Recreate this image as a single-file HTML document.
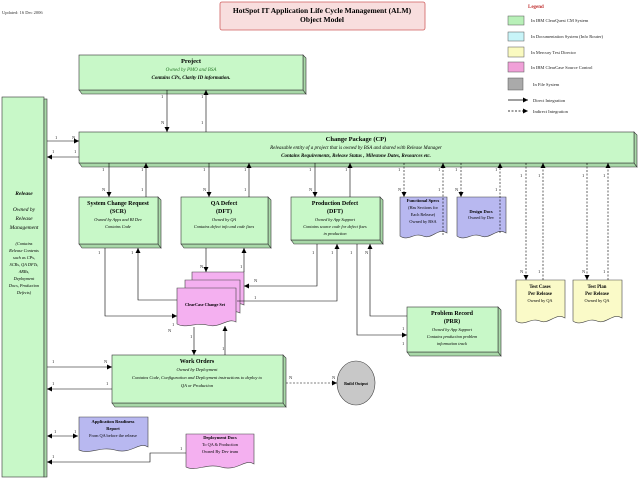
<!DOCTYPE html>
<html><head><meta charset="utf-8"><style>
html,body{margin:0;padding:0;background:#fff;}
svg{display:block;}
text{font-family:"Liberation Serif",serif;}
.b{font-weight:bold;}
.i{font-style:italic;}
</style></head><body>
<svg width="638" height="478" viewBox="0 0 638 478" xmlns="http://www.w3.org/2000/svg">
<defs>
<marker id="a" markerWidth="6" markerHeight="6" refX="5" refY="3" orient="auto" markerUnits="userSpaceOnUse"><path d="M0,0.5 L5,3 L0,5.5 Z" fill="#000"/></marker>
<marker id="as" markerWidth="6" markerHeight="6" refX="1" refY="3" orient="auto" markerUnits="userSpaceOnUse"><path d="M5,0.5 L0,3 L5,5.5 Z" fill="#000"/></marker>
</defs>

<text x="2" y="14" font-size="4.5" fill="#333">Updated: 16 Dec 2006</text>

<!-- Title -->
<rect x="220" y="2" width="205" height="28" rx="2" fill="#f8dede" stroke="#d06060" stroke-width="0.8"/>
<text x="322" y="13" font-size="7.5" class="b" text-anchor="middle">HotSpot IT Application Life Cycle Management (ALM)</text>
<text x="322" y="22" font-size="7.5" class="b" text-anchor="middle">Object Model</text>

<!-- Legend -->
<text x="528" y="8" font-size="5" fill="#c03030" class="b">Legend</text>
<g stroke="#555" stroke-width="0.5" font-size="4.5">
<rect x="508" y="16" width="16" height="9" fill="#b8f0b8"/>
<rect x="508" y="32" width="16" height="9" fill="#c8f4f8"/>
<rect x="508" y="47" width="16" height="10" fill="#fafac0"/>
<rect x="508" y="62" width="16" height="10" fill="#f0a0d8"/>
<rect x="508" y="78" width="15" height="12" fill="#aaa"/>
</g>
<g font-size="4.5" fill="#222">
<text x="531" y="22">In IBM ClearQuest CM System</text>
<text x="531" y="38">In Documentation System (Info Router)</text>
<text x="531" y="54">In Mercury Test Director</text>
<text x="531" y="69">In IBM ClearCase Source Control</text>
<text x="533" y="86">In File System</text>
<text x="533" y="102">Direct Integration</text>
<text x="533" y="113">Indirect Integration</text>
</g>
<line x1="508" y1="100" x2="528" y2="100" stroke="#000" stroke-width="0.7" marker-end="url(#a)"/>
<line x1="508" y1="111" x2="528" y2="111" stroke="#000" stroke-width="0.7" stroke-dasharray="2,1.5" marker-end="url(#a)"/>

<!-- 3D boxes -->
<g stroke="#333" stroke-width="0.6">
<!-- Project -->
<polygon points="79,90 82,94 306,94 303,90" fill="#a8d8a8"/>
<polygon points="303,55 306,58 306,94 303,90" fill="#a8d8a8"/>
<rect x="79" y="55" width="224" height="35" fill="#c8f8c8"/>
<!-- Release -->
<rect x="2" y="97" width="42" height="380" fill="#c8f8c8"/>
<rect x="44" y="99" width="3" height="378" fill="#a8d8a8"/>
<!-- CP -->
<polygon points="79,163 82,167 637,167 634,163" fill="#a8d8a8"/>
<polygon points="634,132 637,135 637,167 634,163" fill="#a8d8a8"/>
<rect x="79" y="132" width="555" height="31" fill="#c8f8c8"/>
<!-- SCR -->
<polygon points="79,244 82,248 161,248 158,244" fill="#a8d8a8"/>
<polygon points="158,197 161,200 161,248 158,244" fill="#a8d8a8"/>
<rect x="79" y="197" width="79" height="47" fill="#c8f8c8"/>
<!-- QA -->
<polygon points="181,244 184,248 271,248 268,244" fill="#a8d8a8"/>
<polygon points="268,197 271,200 271,248 268,244" fill="#a8d8a8"/>
<rect x="181" y="197" width="87" height="47" fill="#c8f8c8"/>
<!-- Prod -->
<polygon points="291,240 294,244 383,244 380,240" fill="#a8d8a8"/>
<polygon points="380,197 383,200 383,244 380,240" fill="#a8d8a8"/>
<rect x="291" y="197" width="89" height="43" fill="#c8f8c8"/>
<!-- PRR -->
<polygon points="407,352 410,356 501,356 498,352" fill="#a8d8a8"/>
<polygon points="498,307 501,310 501,356 498,352" fill="#a8d8a8"/>
<rect x="407" y="307" width="91" height="45" fill="#c8f8c8"/>
<!-- WO -->
<polygon points="112,403 115,407 286,407 283,403" fill="#a8d8a8"/>
<polygon points="283,355 286,358 286,407 283,403" fill="#a8d8a8"/>
<rect x="112" y="355" width="171" height="48" fill="#c8f8c8"/>
</g>

<!-- Documents -->
<g stroke="#444" stroke-width="0.6">
<path d="M400 197 H447 V233 C438 227 432 240 423 236 C414 232 408 242 400 236 Z" fill="#b8b8f0"/>
<path d="M457 197 H506 V233 C497 227 490 240 481 236 C472 232 465 242 457 236 Z" fill="#b8b8f0"/>
<path d="M516 280 H565 V318 C556 312 549 325 540 321 C531 317 524 327 516 321 Z" fill="#fafac8"/>
<path d="M573 280 H622 V318 C613 312 606 325 597 321 C588 317 581 327 573 321 Z" fill="#fafac8"/>
<path d="M79 417 H148 V447 C139 441 131 455 115 450 C100 446 90 455 79 450 Z" fill="#b8b8f0"/>
<path d="M186 434 H254 V464 C245 458 237 472 221 467 C206 463 196 472 186 467 Z" fill="#f4b0f0"/>
<!-- ClearCase stack -->
<path d="M192 272 H244 V305 C236 300 230 311 218 307 C208 304 200 311 192 307 Z" fill="#f4b0f0"/>
<path d="M185 280 H240 V313 C232 308 226 319 213 315 C203 312 193 319 185 315 Z" fill="#f4b0f0"/>
<path d="M177 288 H236 V322 C228 317 220 329 207 325 C196 322 186 329 177 324 Z" fill="#f4b0f0"/>
<!-- Build output -->
<ellipse cx="356" cy="383" rx="19" ry="22" fill="#c8c8c8"/>
</g>

<!-- Texts in boxes -->
<g font-size="5" text-anchor="middle">
<text x="191" y="63" font-size="6.5" class="b">Project</text>
<text x="191" y="71" class="i" fill="#2a7a2a">Owned by PMO and BSA</text>
<text x="191" y="79" class="b i">Contains CPs, Clarity ID information.</text>

<text x="356" y="141" font-size="6.5" class="b">Change Package (CP)</text>
<text x="356" y="149" class="i">Releasable entity of a project that is owned by BSA and shared with Release Manager</text>
<text x="356" y="157" class="b i">Contains Requirements, Release Status , Milestone Dates, Resources etc.</text>

<text x="24" y="195" font-size="5.5" class="b i">Release</text>
<text x="24" y="211" font-size="5.5" class="i">Owned by</text>
<text x="24" y="220" font-size="5.5" class="i">Release</text>
<text x="24" y="229" font-size="5.5" class="i">Management</text>
<text x="24" y="245" font-size="4.3" class="i">(Contains</text>
<text x="24" y="252" font-size="4.3" class="i">Release Contents</text>
<text x="24" y="259" font-size="4.3" class="i">such as CPs,</text>
<text x="24" y="266" font-size="4.3" class="i">SCRs, QA DFTs,</text>
<text x="24" y="273" font-size="4.3" class="i">ARRs,</text>
<text x="24" y="280" font-size="4.3" class="i">Deployment</text>
<text x="24" y="287" font-size="4.3" class="i">Docs, Production</text>
<text x="24" y="294" font-size="4.3" class="i">Defects)</text>

<text x="118" y="205" font-size="6" class="b">System Change Request</text>
<text x="118" y="213" font-size="6" class="b">(SCR)</text>
<text x="118" y="221" font-size="4.3" class="i">Owned by Apps and BI Dev</text>
<text x="118" y="228" font-size="4.3" class="i">Contains Code</text>

<text x="224" y="205" font-size="6" class="b">QA Defect</text>
<text x="224" y="213" font-size="6" class="b">(DFT)</text>
<text x="224" y="221" font-size="4.3" class="i">Owned by QA</text>
<text x="224" y="228" font-size="4.3" class="i">Contains defect info and code fixes</text>

<text x="335" y="205" font-size="6" class="b">Production Defect</text>
<text x="335" y="213" font-size="6" class="b">(DFT)</text>
<text x="335" y="221" font-size="4.3" class="i">Owned by App Support</text>
<text x="335" y="228" font-size="4.3" class="i">Contains source code for defect fixes</text>
<text x="335" y="235" font-size="4.3" class="i">in production</text>

<text x="423" y="202" font-size="4.5" class="b">Functional Specs</text>
<text x="423" y="209" font-size="4.3">(Has Sections for</text>
<text x="423" y="216" font-size="4.3">Each Release)</text>
<text x="423" y="223" font-size="4.3">Owned by BSA</text>
<text x="481" y="213" font-size="4.5" class="b">Design Docs</text>
<text x="481" y="219" font-size="4.3">Owned by Dev</text>

<text x="540" y="288" font-size="4.8" class="b">Test Cases</text>
<text x="540" y="295" font-size="4.8" class="b">Per Release</text>
<text x="540" y="302" font-size="4.3">Owned by QA</text>
<text x="597" y="288" font-size="4.8" class="b">Test Plan</text>
<text x="597" y="295" font-size="4.8" class="b">Per Release</text>
<text x="597" y="302" font-size="4.3">Owned by QA</text>

<text x="205" y="306" font-size="4.2" class="b">ClearCase Change Set</text>

<text x="452" y="315" font-size="6" class="b">Problem Record</text>
<text x="452" y="323" font-size="6" class="b">(PRR)</text>
<text x="452" y="331" font-size="4.3" class="i">Owned by App Support</text>
<text x="452" y="338" font-size="4.3" class="i">Contains production problem</text>
<text x="452" y="345" font-size="4.3" class="i">information track</text>

<text x="197" y="363" font-size="6" class="b">Work Orders</text>
<text x="197" y="371" font-size="4.5" class="i">Owned by Deployment</text>
<text x="197" y="379" font-size="4.5" class="i">Contains Code, Configuration and Deployment instructions to deploy to</text>
<text x="197" y="387" font-size="4.5" class="i">QA or Production</text>

<text x="356" y="385" font-size="4.2" class="b">Build Output</text>

<text x="113" y="423" font-size="4.5" class="b">Application Readiness</text>
<text x="113" y="430" font-size="4.5" class="b">Report</text>
<text x="113" y="437" font-size="4.3">From QA before the release</text>

<text x="220" y="439" font-size="4.5" class="b">Deployment Docs</text>
<text x="220" y="446" font-size="4.3">To QA &amp; Production</text>
<text x="220" y="453" font-size="4.3">Owned By Dev team</text>
</g>

<!-- Connectors -->
<g stroke="#000" stroke-width="0.6" fill="none">
<line x1="167" y1="90" x2="167" y2="132" marker-end="url(#a)"/>
<line x1="206" y1="132" x2="206" y2="90" marker-end="url(#a)"/>
<line x1="47" y1="141" x2="79" y2="141" marker-end="url(#a)"/>
<line x1="79" y1="157" x2="47" y2="157" marker-end="url(#a)"/>

<line x1="109" y1="163" x2="109" y2="197" marker-end="url(#a)"/>
<line x1="146" y1="197" x2="146" y2="163" marker-end="url(#a)"/>
<line x1="209" y1="163" x2="209" y2="197" marker-end="url(#a)"/>
<line x1="249" y1="197" x2="249" y2="163" marker-end="url(#a)"/>
<line x1="315" y1="163" x2="315" y2="197" marker-end="url(#a)"/>
<line x1="350" y1="197" x2="350" y2="163" marker-end="url(#a)"/>
</g>
<g stroke="#000" stroke-width="0.6" fill="none" stroke-dasharray="2,1.5">
<line x1="404" y1="163" x2="404" y2="197" marker-end="url(#a)"/>
<line x1="443" y1="235" x2="443" y2="163" marker-end="url(#a)"/>
<line x1="461" y1="163" x2="461" y2="197" marker-end="url(#a)"/>
<line x1="500" y1="233" x2="500" y2="163" marker-end="url(#a)"/>
<line x1="526" y1="163" x2="526" y2="280" marker-end="url(#a)"/>
<line x1="543" y1="280" x2="543" y2="163" marker-end="url(#a)"/>
<line x1="587" y1="163" x2="587" y2="280" marker-end="url(#a)"/>
<line x1="608" y1="280" x2="608" y2="163" marker-end="url(#a)"/>
<line x1="286" y1="383" x2="337" y2="383" marker-end="url(#a)"/>
</g>
<g stroke="#000" stroke-width="0.6" fill="none">
<polyline points="105,248 105,316 177,316" marker-end="url(#a)"/>
<polyline points="177,300 138,300 138,248" marker-end="url(#a)"/>
<line x1="206" y1="248" x2="206" y2="272" marker-end="url(#a)"/>
<line x1="244" y1="272" x2="244" y2="248" marker-end="url(#a)"/>
<polyline points="317,244 317,286 244,286" marker-end="url(#a)"/>
<polyline points="237,301 337,301 337,244" marker-end="url(#a)"/>
<polyline points="357,244 357,335 407,335" marker-end="url(#a)"/>
<polyline points="407,316 370,316 370,244" marker-end="url(#a)"/>
<line x1="194" y1="327" x2="194" y2="355" marker-end="url(#a)"/>
<line x1="225" y1="355" x2="225" y2="326" marker-end="url(#a)"/>
<line x1="47" y1="367" x2="112" y2="367" marker-end="url(#a)"/>
<line x1="112" y1="389" x2="47" y2="389" marker-end="url(#a)"/>
<line x1="48" y1="436" x2="78" y2="436" marker-start="url(#as)" marker-end="url(#a)"/>
<polyline points="186,453 150,453 150,462 47,462" marker-end="url(#a)"/>
</g>

<!-- multiplicity labels -->
<g font-size="4.5" fill="#222">
<text x="161" y="98">1</text><text x="161" y="124">N</text>
<text x="201" y="98">1</text><text x="201" y="124">1</text>
<text x="55" y="139">1</text><text x="72" y="139">N</text>
<text x="52" y="153">1</text><text x="74" y="153">1</text>
<text x="102" y="171">1</text><text x="102" y="191">N</text>
<text x="141" y="171">1</text><text x="141" y="191">1</text>
<text x="203" y="171">1</text><text x="203" y="191">N</text>
<text x="244" y="171">1</text><text x="244" y="191">1</text>
<text x="309" y="171">1</text><text x="309" y="191">N</text>
<text x="345" y="171">1</text>
<text x="398" y="171">1</text><text x="398" y="191">N</text>
<text x="438" y="171">1</text><text x="438" y="191">1</text>
<text x="455" y="171">1</text><text x="455" y="191">N</text>
<text x="495" y="171">1</text><text x="495" y="191">1</text>
<text x="520" y="177">1</text><text x="520" y="273">N</text>
<text x="538" y="177">1</text><text x="538" y="273">1</text>
<text x="582" y="177">1</text><text x="582" y="273">N</text>
<text x="603" y="177">1</text><text x="603" y="273">1</text>
<text x="98" y="254">1</text><text x="131" y="254">1</text>
<text x="200" y="268">N</text><text x="240" y="268">1</text>
<text x="312" y="254">1</text><text x="331" y="254">1</text>
<text x="350" y="254">1</text><text x="365" y="254">N</text>
<text x="254" y="282">N</text><text x="254" y="299">1</text>
<text x="172" y="326">1</text><text x="168" y="332">N</text>
<text x="402" y="330">1</text><text x="402" y="345">1</text>
<text x="190" y="338">1</text><text x="222" y="350">1</text>
<text x="52" y="363">1</text><text x="104" y="363">N</text>
<text x="52" y="385">1</text><text x="106" y="385">1</text>
<text x="289" y="379">N</text><text x="332" y="379">N</text>
<text x="54" y="433">1</text><text x="74" y="433">1</text>
<text x="180" y="450">1</text><text x="52" y="458">1</text>
</g>
</svg>
</body></html>
